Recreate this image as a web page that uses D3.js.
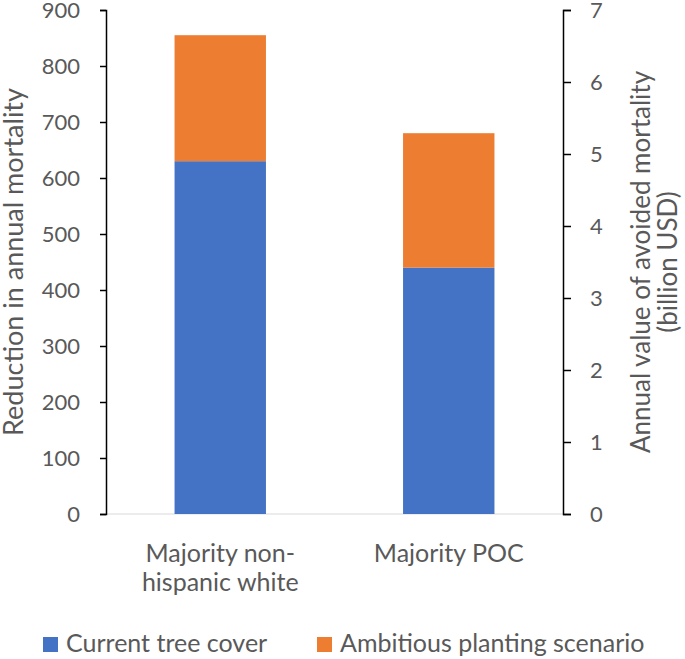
<!DOCTYPE html>
<html><head><meta charset="utf-8">
<script src="https://cdn.jsdelivr.net/npm/d3@7"></script>
<style>
body{margin:0;background:#fff;}
text{font-family:Lato,"Open Sans",sans-serif;fill:#595959;}
</style></head>
<body><svg id="c" width="685" height="659"></svg>
<script>
const categories = [["Majority non-","hispanic white"],["Majority POC"]];
const categoryKeys = ["Majority non-hispanic white","Majority POC"];
const currentTreeCover = [630, 440];
const ambitiousPlanting = [225, 240];
const seriesNames = ["Current tree cover","Ambitious planting scenario"];
const seriesColors = ["#4472C4","#ED7D31"];
const leftTicks = [0,100,200,300,400,500,600,700,800,900];
const rightTicks = [0,1,2,3,4,5,6,7];

const svg = d3.select("#c");
const x0 = 106, x1 = 563, yTop = 10, yBot = 514;
const x = d3.scaleBand().domain(categoryKeys).range([x0,x1]).paddingInner(0.6).paddingOuter(0.3);
const y = d3.scaleLinear().domain([0,900]).range([yBot,yTop]);
const y2 = d3.scaleLinear().domain([0,7]).range([yBot,yTop]);

const stacked = d3.stack().keys([0,1])(categoryKeys.map((k,i)=>({key:k,0:currentTreeCover[i],1:ambitiousPlanting[i]})));

// baseline
svg.append("line").attr("x1",x0).attr("x2",x1).attr("y1",y(0)).attr("y2",y(0)).attr("stroke","#d9d9d9").attr("stroke-width",1.2);

stacked.forEach((s,si)=>{
  svg.append("g").selectAll("rect").data(s).join("rect")
    .attr("x",d=>x(d.data.key)).attr("width",x.bandwidth())
    .attr("y",d=>y(d[1])).attr("height",d=>y(d[0])-y(d[1]))
    .attr("fill",seriesColors[si]);
});

const fs = 22;
const ga = svg.append("g").attr("transform",`translate(${x0},0)`)
  .call(d3.axisLeft(y).tickValues(leftTicks).tickSize(6).tickPadding(20));
ga.select(".domain").attr("stroke","#000").attr("stroke-width",1.5);
ga.selectAll(".tick line").attr("stroke","#000").attr("stroke-width",1.5);
ga.selectAll(".tick text").style("font-size",fs+"px").attr("fill","#595959").style("font-family","Lato");

const gb = svg.append("g").attr("transform",`translate(${x1},0)`)
  .call(d3.axisRight(y2).tickValues(rightTicks).tickFormat(d3.format("d")).tickSize(8).tickPadding(19));
gb.select(".domain").attr("stroke","#000").attr("stroke-width",1.5);
gb.selectAll(".tick line").attr("stroke","#000").attr("stroke-width",1.5);
gb.selectAll(".tick text").style("font-size",fs+"px").attr("fill","#595959").style("font-family","Lato");

// category labels
categoryKeys.forEach((k,i)=>{
  const cx = x(k)+x.bandwidth()/2;
  const t = svg.append("text").attr("text-anchor","middle").style("font-size","25px")
    .attr("x",cx).attr("y",562);
  categories[i].forEach((ln,j)=>t.append("tspan").attr("x",cx).attr("dy",j?29:0).text(ln));
});

// axis titles
const cy = (yTop+yBot)/2;
svg.append("text").attr("transform",`translate(23,${cy}) rotate(-90)`)
  .attr("text-anchor","middle").style("font-size","27px").text("Reduction in annual mortality");
svg.append("text").attr("transform",`translate(650,${cy}) rotate(-90)`)
  .attr("text-anchor","middle").style("font-size","26px").text("Annual value of avoided mortality");
svg.append("text").attr("transform",`translate(677,${cy}) rotate(-90)`)
  .attr("text-anchor","middle").style("font-size","26px").text("(billion USD)");

// legend
const lg = [43,317];
seriesNames.forEach((n,i)=>{
  svg.append("rect").attr("x",lg[i]).attr("y",637).attr("width",15).attr("height",15).attr("fill",seriesColors[i]);
  svg.append("text").attr("x",lg[i]+23).attr("y",652).style("font-size","25px").text(n);
});
</script></body></html>
